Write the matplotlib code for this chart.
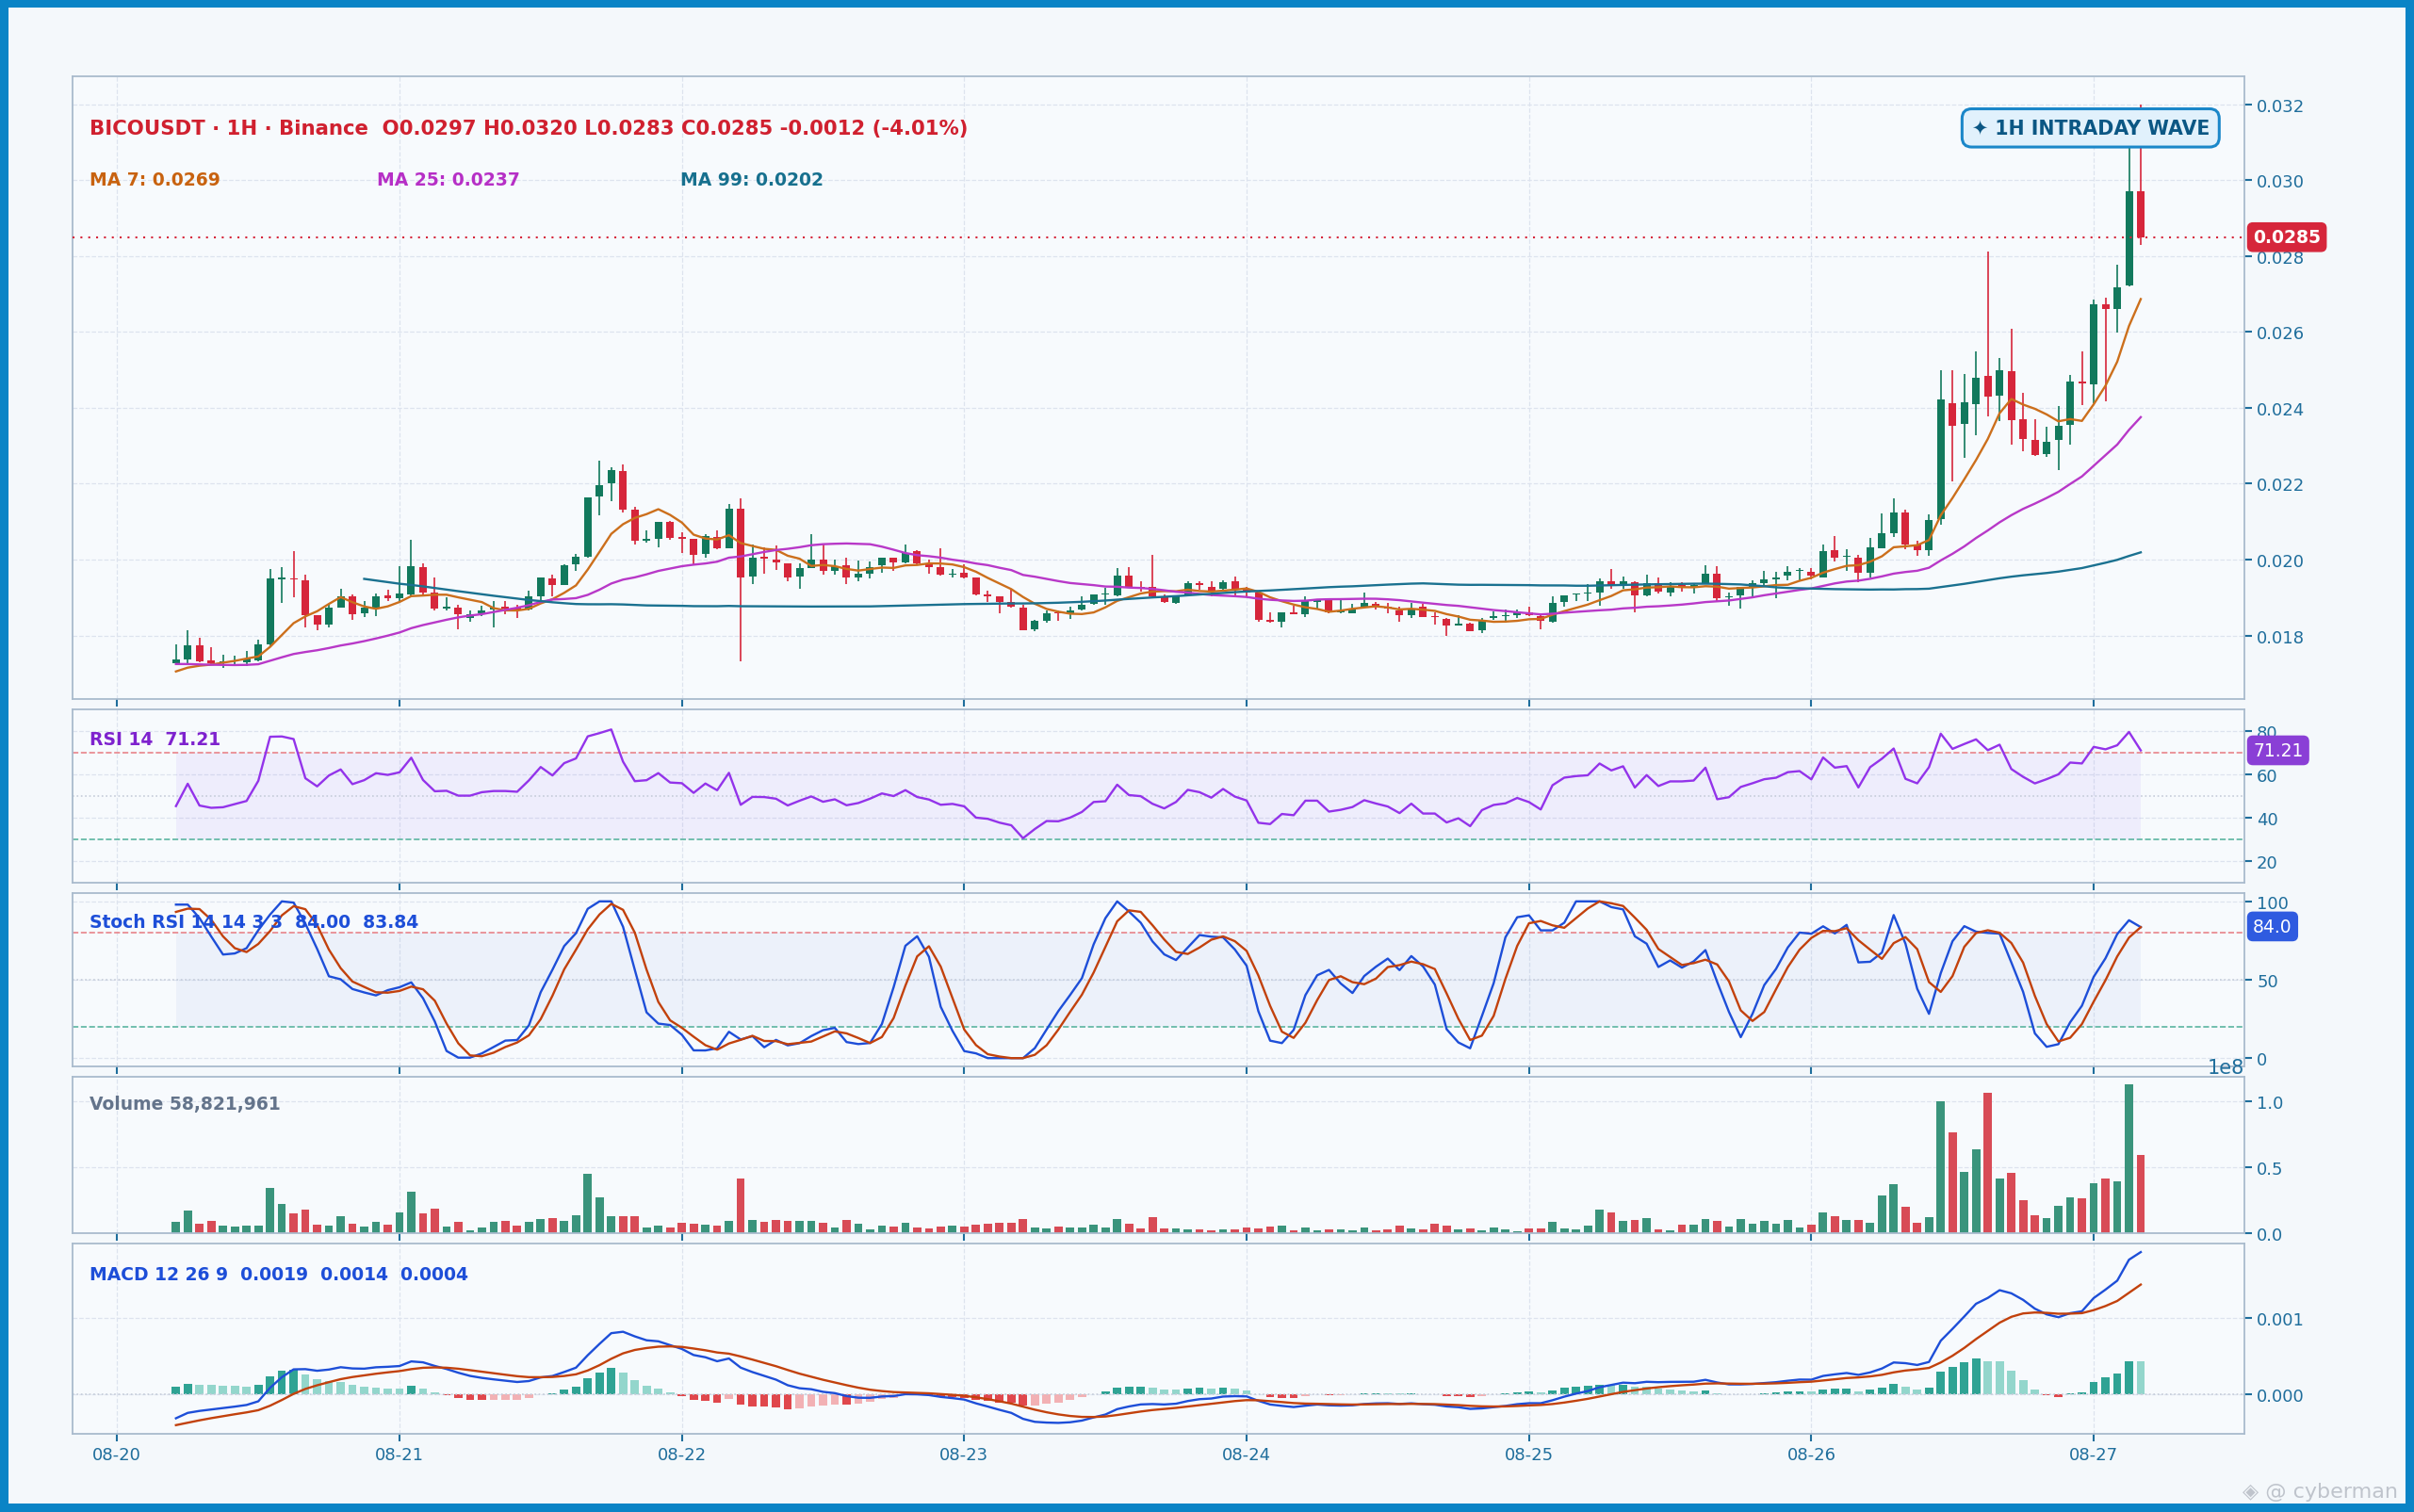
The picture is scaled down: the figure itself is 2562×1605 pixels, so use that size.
import matplotlib
matplotlib.use("Agg")
import matplotlib.pyplot as plt
import matplotlib.dates as mdates
from matplotlib.patches import Rectangle
from matplotlib.ticker import MultipleLocator, FormatStrFormatter
import numpy as np
import pandas as pd

# ---- BICOUSDT 1h candles, first bar 08-20 05:00 ----
first_bar = "2024-08-20 05:00"

opens = [0.01728, 0.01736, 0.01774, 0.01734, 0.01727, 0.01731, 0.01729, 0.01735, 0.01776, 0.01948,
         0.01950, 0.01945, 0.01854, 0.01829, 0.01874, 0.01902, 0.01859, 0.01873, 0.01906, 0.01899,
         0.01909, 0.01979, 0.01913, 0.01871, 0.01874, 0.01845, 0.01859, 0.01869, 0.01877, 0.01874,
         0.01869, 0.01904, 0.01950, 0.01934, 0.01987, 0.02008, 0.02167, 0.02202, 0.02233, 0.02132,
         0.02049, 0.02055, 0.02099, 0.02058, 0.02055, 0.02015, 0.02060, 0.02031, 0.02134, 0.01956,
         0.02006, 0.02001, 0.01991, 0.01956, 0.01978, 0.02000, 0.01971, 0.01985, 0.01952, 0.01962,
         0.01985, 0.02005, 0.01993, 0.02022, 0.01989, 0.01981, 0.01960, 0.01965, 0.01952, 0.01909,
         0.01903, 0.01888, 0.01873, 0.01816, 0.01838, 0.01861, 0.01859, 0.01869, 0.01884, 0.01907,
         0.01905, 0.01957, 0.01929, 0.01927, 0.01900, 0.01887, 0.01905, 0.01938, 0.01928, 0.01922,
         0.01943, 0.01920, 0.01912, 0.01842, 0.01837, 0.01858, 0.01856, 0.01889, 0.01893, 0.01861,
         0.01858, 0.01875, 0.01883, 0.01877, 0.01866, 0.01854, 0.01877, 0.01850, 0.01844, 0.01827,
         0.01832, 0.01813, 0.01847, 0.01850, 0.01854, 0.01862, 0.01850, 0.01837, 0.01889, 0.01907,
         0.01910, 0.01912, 0.01943, 0.01932, 0.01941, 0.01906, 0.01937, 0.01913, 0.01932, 0.01928,
         0.01938, 0.01963, 0.01900, 0.01905, 0.01928, 0.01938, 0.01949, 0.01957, 0.01969, 0.01968,
         0.01953, 0.02026, 0.02007, 0.02004, 0.01965, 0.02031, 0.02070, 0.02124, 0.02040, 0.02025,
         0.02108, 0.02413, 0.02357, 0.02410, 0.02485, 0.02431, 0.02497, 0.02371, 0.02316, 0.02277,
         0.02315, 0.02355, 0.02469, 0.02462, 0.02674, 0.02661, 0.02722, 0.02970]

highs = [0.01776, 0.01813, 0.01793, 0.01770, 0.01749, 0.01746, 0.01759, 0.01788, 0.01975, 0.01979,
         0.02022, 0.01960, 0.01854, 0.01884, 0.01924, 0.01909, 0.01892, 0.01910, 0.01920, 0.01982,
         0.02051, 0.01991, 0.01952, 0.01900, 0.01880, 0.01867, 0.01878, 0.01892, 0.01892, 0.01880,
         0.01917, 0.01954, 0.01960, 0.01987, 0.02016, 0.02165, 0.02262, 0.02244, 0.02252, 0.02140,
         0.02076, 0.02100, 0.02101, 0.02072, 0.02055, 0.02066, 0.02078, 0.02146, 0.02161, 0.02041,
         0.02033, 0.02037, 0.01991, 0.01991, 0.02066, 0.02041, 0.02000, 0.02004, 0.01997, 0.01994,
         0.02006, 0.02006, 0.02041, 0.02026, 0.02000, 0.02029, 0.01975, 0.01987, 0.01952, 0.01919,
         0.01904, 0.01921, 0.01880, 0.01842, 0.01867, 0.01867, 0.01875, 0.01902, 0.01909, 0.01925,
         0.01977, 0.01981, 0.01942, 0.02013, 0.01908, 0.01905, 0.01943, 0.01943, 0.01943, 0.01946,
         0.01955, 0.01928, 0.01916, 0.01860, 0.01860, 0.01879, 0.01902, 0.01894, 0.01893, 0.01893,
         0.01884, 0.01913, 0.01889, 0.01887, 0.01877, 0.01887, 0.01884, 0.01862, 0.01847, 0.01854,
         0.01833, 0.01847, 0.01864, 0.01869, 0.01869, 0.01875, 0.01854, 0.01902, 0.01906, 0.01910,
         0.01936, 0.01951, 0.01974, 0.01955, 0.01943, 0.01961, 0.01953, 0.01941, 0.01941, 0.01938,
         0.01986, 0.01982, 0.01913, 0.01928, 0.01946, 0.01971, 0.01968, 0.01982, 0.01978, 0.01978,
         0.02040, 0.02062, 0.02027, 0.02012, 0.02056, 0.02122, 0.02161, 0.02131, 0.02050, 0.02120,
         0.02499, 0.02499, 0.02489, 0.02549, 0.02812, 0.02532, 0.02608, 0.02440, 0.02369, 0.02351,
         0.02404, 0.02487, 0.02549, 0.02685, 0.02690, 0.02777, 0.03100, 0.03200]

lows = [0.01726, 0.01726, 0.01730, 0.01722, 0.01714, 0.01724, 0.01720, 0.01732, 0.01772, 0.01886,
        0.01900, 0.01822, 0.01813, 0.01822, 0.01874, 0.01842, 0.01849, 0.01852, 0.01890, 0.01892,
        0.01904, 0.01909, 0.01867, 0.01865, 0.01817, 0.01837, 0.01851, 0.01822, 0.01856, 0.01845,
        0.01867, 0.01892, 0.01904, 0.01933, 0.01971, 0.02004, 0.02117, 0.02154, 0.02124, 0.02041,
        0.02044, 0.02033, 0.02053, 0.02018, 0.01987, 0.02006, 0.02027, 0.02029, 0.01731, 0.01936,
        0.01962, 0.01973, 0.01943, 0.01923, 0.01978, 0.01960, 0.01960, 0.01936, 0.01943, 0.01950,
        0.01965, 0.01971, 0.01989, 0.01987, 0.01962, 0.01957, 0.01952, 0.01950, 0.01906, 0.01888,
        0.01859, 0.01874, 0.01813, 0.01812, 0.01834, 0.01838, 0.01844, 0.01865, 0.01882, 0.01881,
        0.01904, 0.01925, 0.01915, 0.01903, 0.01887, 0.01883, 0.01903, 0.01920, 0.01903, 0.01918,
        0.01903, 0.01903, 0.01837, 0.01833, 0.01821, 0.01855, 0.01848, 0.01872, 0.01858, 0.01858,
        0.01858, 0.01875, 0.01869, 0.01858, 0.01836, 0.01847, 0.01848, 0.01829, 0.01799, 0.01825,
        0.01811, 0.01806, 0.01842, 0.01834, 0.01847, 0.01850, 0.01817, 0.01833, 0.01877, 0.01891,
        0.01890, 0.01879, 0.01924, 0.01924, 0.01861, 0.01903, 0.01910, 0.01903, 0.01916, 0.01910,
        0.01936, 0.01891, 0.01879, 0.01870, 0.01903, 0.01930, 0.01897, 0.01946, 0.01946, 0.01949,
        0.01953, 0.01994, 0.01971, 0.01941, 0.01953, 0.02031, 0.02060, 0.02028, 0.02010, 0.02010,
        0.02091, 0.02207, 0.02268, 0.02328, 0.02377, 0.02365, 0.02303, 0.02285, 0.02273, 0.02271,
        0.02237, 0.02303, 0.02407, 0.02413, 0.02417, 0.02598, 0.02720, 0.02830]

closes = [0.01736, 0.01774, 0.01733, 0.01728, 0.01729, 0.01734, 0.01739, 0.01776, 0.01950, 0.01952,
          0.01947, 0.01854, 0.01829, 0.01874, 0.01902, 0.01856, 0.01873, 0.01904, 0.01899, 0.01910,
          0.01982, 0.01913, 0.01871, 0.01873, 0.01855, 0.01855, 0.01867, 0.01871, 0.01871, 0.01869,
          0.01904, 0.01954, 0.01933, 0.01985, 0.02008, 0.02163, 0.02196, 0.02236, 0.02132, 0.02049,
          0.02055, 0.02099, 0.02058, 0.02055, 0.02012, 0.02061, 0.02031, 0.02134, 0.01954, 0.02004,
          0.02003, 0.01993, 0.01952, 0.01977, 0.02000, 0.01971, 0.01983, 0.01952, 0.01962, 0.01981,
          0.02004, 0.01993, 0.02018, 0.01991, 0.01981, 0.01960, 0.01963, 0.01954, 0.01909, 0.01904,
          0.01888, 0.01877, 0.01815, 0.01838, 0.01859, 0.01858, 0.01867, 0.01881, 0.01907, 0.01909,
          0.01957, 0.01928, 0.01925, 0.01903, 0.01889, 0.01905, 0.01938, 0.01932, 0.01918, 0.01941,
          0.01922, 0.01912, 0.01842, 0.01837, 0.01860, 0.01856, 0.01891, 0.01891, 0.01860, 0.01864,
          0.01870, 0.01885, 0.01877, 0.01870, 0.01854, 0.01872, 0.01848, 0.01848, 0.01825, 0.01832,
          0.01811, 0.01839, 0.01849, 0.01852, 0.01862, 0.01854, 0.01839, 0.01887, 0.01906, 0.01910,
          0.01912, 0.01943, 0.01932, 0.01943, 0.01906, 0.01938, 0.01916, 0.01928, 0.01928, 0.01930,
          0.01963, 0.01897, 0.01902, 0.01928, 0.01938, 0.01949, 0.01953, 0.01968, 0.01971, 0.01957,
          0.02023, 0.02004, 0.02009, 0.01965, 0.02033, 0.02070, 0.02124, 0.02040, 0.02025, 0.02104,
          0.02421, 0.02353, 0.02415, 0.02480, 0.02429, 0.02499, 0.02367, 0.02318, 0.02275, 0.02311,
          0.02353, 0.02470, 0.02465, 0.02674, 0.02660, 0.02719, 0.02970, 0.02850]

# volume in millions
volume_m = [8.1, 16.7, 6.7, 8.8, 5.2, 4.5, 5.2, 5.2, 33.8, 21.7,
            14.5, 17.4, 6.0, 5.2, 12.4, 6.7, 4.5, 8.1, 6.0, 15.2,
            31.0, 14.5, 18.1, 4.5, 8.1, 1.7, 3.8, 8.1, 8.8, 5.2,
            8.1, 10.2, 11.0, 8.8, 13.1, 44.5, 26.7, 12.4, 12.4, 12.4,
            3.8, 5.2, 3.8, 7.4, 6.7, 6.0, 5.2, 8.8, 41.0, 9.5,
            8.1, 9.5, 8.8, 8.8, 8.8, 7.4, 3.8, 9.5, 6.7, 2.4,
            5.2, 4.5, 7.4, 3.8, 3.1, 4.5, 5.2, 4.5, 6.0, 6.7,
            7.4, 7.4, 10.2, 3.8, 3.1, 4.5, 3.8, 3.8, 6.0, 3.8,
            10.2, 6.7, 3.1, 11.7, 3.1, 3.1, 2.4, 2.4, 1.7, 2.4,
            2.4, 3.8, 3.1, 4.5, 5.2, 1.7, 3.8, 1.7, 2.4, 2.4,
            1.7, 3.8, 1.7, 2.4, 5.2, 3.1, 2.4, 6.7, 5.2, 2.4,
            3.1, 1.7, 3.8, 2.4, 1.0, 3.1, 3.1, 8.1, 3.1, 2.4,
            5.2, 17.4, 15.2, 8.8, 9.5, 11.0, 2.4, 1.7, 6.0, 6.0,
            10.2, 8.8, 4.5, 10.2, 6.7, 8.8, 6.7, 9.5, 3.8, 6.0,
            15.2, 12.4, 9.5, 9.5, 7.4, 28.1, 36.7, 19.5, 7.4, 11.7,
            99.5, 76.0, 46.0, 63.1, 106.0, 41.0, 45.2, 24.5, 13.1, 11.0,
            20.2, 26.7, 26.0, 37.4, 41.0, 38.8, 112.4, 58.821961]

# closes before the visible window (not drawn), estimated so the indicators
# start where the chart shows them: MA99 appears at 08-20 21:00
prior_close = [0.02335, 0.02318, 0.02326, 0.02301, 0.02289, 0.02297, 0.02274, 0.02281, 0.02262, 0.02270,
               0.02255, 0.02248, 0.02259, 0.02241, 0.02236, 0.02244, 0.02229, 0.02218, 0.02225, 0.02207,
               0.02214, 0.02196, 0.02183, 0.02171,
               0.02138, 0.02105, 0.02082, 0.02091, 0.02064, 0.02047, 0.02058, 0.02031, 0.02019, 0.02026,
               0.02003, 0.01987, 0.01995, 0.01978, 0.01969, 0.01982, 0.01961, 0.01948, 0.01955, 0.01937,
               0.01924, 0.01931, 0.01912, 0.01899, 0.01906, 0.01884, 0.01871, 0.01878, 0.01856, 0.01843,
               0.01829, 0.01818, 0.01802, 0.01791,
               0.01776, 0.01758, 0.01749, 0.01737, 0.01745, 0.01728, 0.01733, 0.01719, 0.01726, 0.01731,
               0.01722, 0.01714, 0.01727, 0.01735, 0.01724, 0.01718, 0.01729, 0.01711,
               0.01704, 0.01697, 0.01708, 0.01693, 0.01701, 0.01697]

# values printed on the chart
header = "BICOUSDT · 1H · Binance  O0.0297 H0.0320 L0.0283 C0.0285 -0.0012 (-4.01%)"
ma_texts = ["MA 7: 0.0269", "MA 25: 0.0237", "MA 99: 0.0202"]
last_price = 0.0285
rsi_last = 71.21
stoch_k_last, stoch_d_last = 84.00, 83.84
macd_vals = (0.0019, 0.0014, 0.0004)
last_volume = 58821961

# colours
BG = "#f4f8fb"
AX_BG = "#f7fafd"
GREEN = "#12795d"
RED = "#d6263b"
VOL_GREEN = "#3a947c"
VOL_RED = "#d84b56"
MA_COLORS = ["#cc6f1c", "#b838c8", "#1a7190"]
MA_TEXT = ["#c8620f", "#b62fc6", "#17708e"]
TICK = "#1f6e9c"
SPINE = "#a9bbcd"
GRID = "#dde3ee"
BLUE = "#1d4ed8"
ORANGE = "#c2410c"
PURPLE = "#9333ea"

# ---- indicators ----
n_prior = len(prior_close)
s = pd.Series(prior_close + closes)
ma7 = s.rolling(7).mean().to_numpy()[n_prior:]
ma25 = s.rolling(25).mean().to_numpy()[n_prior:]
ma99 = s.rolling(99).mean().to_numpy()[n_prior:]

delta = s.diff()
gain = delta.clip(lower=0).ewm(alpha=1 / 14, adjust=False).mean()
loss = (-delta.clip(upper=0)).ewm(alpha=1 / 14, adjust=False).mean()
rsi_s = 100 - 100 / (1 + gain / loss)
lo = rsi_s.rolling(14).min()
hi = rsi_s.rolling(14).max()
stoch = (rsi_s - lo) / (hi - lo) * 100
k_s = stoch.rolling(3).mean()
d_s = k_s.rolling(3).mean()
rsi = rsi_s.to_numpy()[n_prior:]
stoch_k = k_s.to_numpy()[n_prior:]
stoch_d = d_s.to_numpy()[n_prior:]

macd_s = s.ewm(span=12, adjust=False).mean() - s.ewm(span=26, adjust=False).mean()
sig_s = macd_s.ewm(span=9, adjust=False).mean()
macd = macd_s.to_numpy()[n_prior:]
signal = sig_s.to_numpy()[n_prior:]
hist = macd - signal

# ---- figure ----
o = np.array(opens)
h = np.array(highs)
l = np.array(lows)
c = np.array(closes)
vol = np.array(volume_m) * 1e6
times = pd.date_range(first_bar, periods=len(closes), freq="h")
x = mdates.date2num(times)
up = c >= o
hour = 1 / 24

fig = plt.figure(figsize=(25.62, 16.06), dpi=100, facecolor=BG)
gs = fig.add_gridspec(5, 1, height_ratios=[661, 184, 183, 166, 202], hspace=0.04,
                      left=0.030, right=0.9297, top=0.949, bottom=0.0517)
ax = fig.add_subplot(gs[0])
ax_rsi = fig.add_subplot(gs[1], sharex=ax)
ax_st = fig.add_subplot(gs[2], sharex=ax)
ax_vol = fig.add_subplot(gs[3], sharex=ax)
ax_macd = fig.add_subplot(gs[4], sharex=ax)
all_axes = [ax, ax_rsi, ax_st, ax_vol, ax_macd]

for a in all_axes:
    a.set_facecolor(AX_BG)
    a.grid(True, color=GRID, ls="--", lw=0.9)
    a.set_axisbelow(True)
    a.yaxis.tick_right()
    a.tick_params(colors=TICK, labelsize=13, length=6, width=1.5)
    for sp in a.spines.values():
        sp.set_color(SPINE)
        sp.set_linewidth(1.3)
    a.xaxis.set_major_locator(mdates.DayLocator())
    a.xaxis.set_major_formatter(mdates.DateFormatter("%m-%d"))
for a in all_axes[:-1]:
    a.tick_params(labelbottom=False)

# candles
col = np.where(up, GREEN, RED)
ax.vlines(x, l, h, colors=col, lw=1.2, zorder=2)
body = np.maximum(np.abs(c - o), 0.00004)
ax.bar(x, body, bottom=np.minimum(o, c), width=0.64 * hour, color=col, zorder=3)
for ma, cl in zip([ma7, ma25, ma99], MA_COLORS):
    ax.plot(x, ma, color=cl, lw=1.7, zorder=4)
ax.axhline(last_price, color=RED, ls=(0, (1, 3)), lw=1.5, zorder=4)
rng = max(highs) - min(lows)
ax.set_ylim(min(lows) - 0.055 * rng, max(highs) + 0.05 * rng)
ax.set_xlim(x[0] - 8.8 * hour, x[-1] + 8.8 * hour)
ax.yaxis.set_major_locator(MultipleLocator(0.002))
ax.yaxis.set_major_formatter(FormatStrFormatter("%.3f"))

ax.text(0.008, 0.917, header, transform=ax.transAxes, color="#d0202f", fontsize=15.3,
        fontweight="bold", va="center")
for xt, txt, cl in zip([0.008, 0.140, 0.280], ma_texts, MA_TEXT):
    ax.text(xt, 0.835, txt, transform=ax.transAxes, color=cl, fontsize=13.5,
            fontweight="bold", va="center")
ax.text(0.984, 0.917, "✦ 1H INTRADAY WAVE", transform=ax.transAxes, ha="right", va="center",
        fontsize=14.8, fontweight="bold", color="#0b5784", zorder=10,
        bbox=dict(boxstyle="round,pad=0.5", fc="#e1f1fc", ec="#1b87c9", lw=2.2))


def value_tag(a, y, txt, fc, bold=False):
    a.text(1.004, y, txt, transform=a.get_yaxis_transform(), ha="left", va="center",
           fontsize=13.5, color="white", fontweight="bold" if bold else "normal", zorder=10,
           clip_on=False, bbox=dict(boxstyle="round,pad=0.3", fc=fc, ec=fc, lw=1))


value_tag(ax, last_price, f"{last_price:.4f}", RED, bold=True)

# RSI
ax_rsi.fill_between(x, 30, 70, color="#8b5cf6", alpha=0.08, lw=0)
ax_rsi.axhline(70, color="#e8848a", ls="--", lw=1.2)
ax_rsi.axhline(30, color="#5cb5a1", ls="--", lw=1.2)
ax_rsi.axhline(50, color="#c5ccd9", ls=":", lw=1.2)
ax_rsi.plot(x, rsi, color=PURPLE, lw=1.7)
ax_rsi.set_ylim(10, 90)
ax_rsi.set_yticks([20, 40, 60, 80])
ax_rsi.text(0.008, 0.83, f"RSI 14  {rsi_last:.2f}", transform=ax_rsi.transAxes,
            color="#7e22ce", fontsize=13.5, fontweight="bold", va="center")
value_tag(ax_rsi, rsi_last, f"{rsi_last:.2f}", "#8a3fd6")

# Stoch RSI
ax_st.fill_between(x, 20, 80, color="#6d8fe0", alpha=0.08, lw=0)
ax_st.axhline(80, color="#e8848a", ls="--", lw=1.2)
ax_st.axhline(20, color="#5cb5a1", ls="--", lw=1.2)
ax_st.axhline(50, color="#c5ccd9", ls=":", lw=1.2)
ax_st.plot(x, stoch_k, color=BLUE, lw=1.7)
ax_st.plot(x, stoch_d, color=ORANGE, lw=1.7)
ax_st.set_ylim(-5, 105)
ax_st.set_yticks([0, 50, 100])
ax_st.text(0.008, 0.835, f"Stoch RSI 14 14 3 3  {stoch_k_last:.2f}  {stoch_d_last:.2f}",
           transform=ax_st.transAxes, color=BLUE, fontsize=13.5, fontweight="bold", va="center")
value_tag(ax_st, stoch_k_last, f"{stoch_k_last:.1f}", "#2f5be0")

# Volume
ax_vol.bar(x, vol, width=0.7 * hour, color=np.where(up, VOL_GREEN, VOL_RED))
ax_vol.set_ylim(0, vol.max() * 1.055)
ax_vol.yaxis.set_major_locator(MultipleLocator(0.5e8))
ax_vol.yaxis.get_offset_text().set_fontsize(15)
ax_vol.yaxis.get_offset_text().set_color(TICK)
ax_vol.text(0.008, 0.825, f"Volume {last_volume:,}", transform=ax_vol.transAxes,
            color="#64748b", fontsize=13.5, fontweight="bold", va="center")

# MACD
prev = np.concatenate([[hist[0]], hist[:-1]])
hcol = np.where(hist >= 0,
                np.where(hist >= prev, "#2fa394", "#93d6cc"),
                np.where(hist < prev, "#e0474c", "#f2b1b4"))
ax_macd.bar(x, hist, width=0.7 * hour, color=hcol)
ax_macd.axhline(0, color="#c5ccd9", ls=":", lw=1.2)
ax_macd.plot(x, macd, color=BLUE, lw=1.7)
ax_macd.plot(x, signal, color=ORANGE, lw=1.7)
ax_macd.yaxis.set_major_locator(MultipleLocator(0.001))
ax_macd.yaxis.set_major_formatter(FormatStrFormatter("%.3f"))
ax_macd.text(0.008, 0.84, "MACD 12 26 9  {:.4f}  {:.4f}  {:.4f}".format(*macd_vals),
             transform=ax_macd.transAxes, color=BLUE, fontsize=13.5, fontweight="bold",
             va="center")

# watermark and frame
fig.text(0.929, 0.014, "◈ @ cyberman", color="#bfc4cc", fontsize=16, va="center")
fig.add_artist(Rectangle((0, 0), 1, 1, transform=fig.transFigure, fill=False,
                         ec="#0a84c6", lw=13, zorder=100))

fig.savefig("out.png", dpi=100, facecolor=BG)
